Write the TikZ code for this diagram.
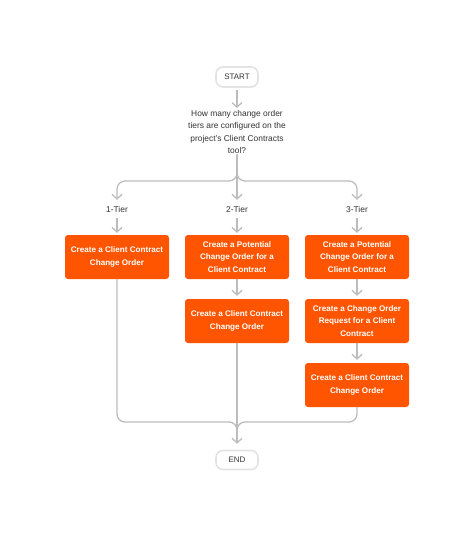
\documentclass[tikz,border=0pt]{standalone}
\usepackage{fontspec}
\setmainfont{Liberation Sans}
\usetikzlibrary{arrows.meta}
\definecolor{procore}{HTML}{FF5500}
\definecolor{linegray}{HTML}{BDBDBD}
\definecolor{termgray}{HTML}{E3E3E3}
\definecolor{txtgray}{HTML}{333333}
\tikzset{
  x=1pt,y=-1pt,
  term/.style={draw=termgray,line width=1.6pt,fill=white,rounded corners=7pt,
    minimum width=42pt,minimum height=20pt,inner sep=0pt,
    font=\fontsize{8}{10}\selectfont,text=txtgray},
  orangebox/.style={fill=procore,rounded corners=3pt,minimum width=104pt,
    minimum height=44pt,inner sep=0pt,align=center,text=white,
    font=\bfseries\fontsize{8.1}{12.6}\selectfont},
  question/.style={align=center,text=txtgray,inner sep=0pt,
    font=\fontsize{8.4}{12.5}\selectfont},
  tier/.style={text=txtgray,inner sep=0pt,minimum height=18pt,
    font=\fontsize{8.4}{10}\selectfont},
  conn/.style={draw=linegray,line width=1.3pt},
  arr/.style={conn,-{Straight Barb[length=4.5pt,width=10pt,line width=1.3pt]}},
}
\begin{document}
\begin{tikzpicture}
\useasboundingbox (0,0) rectangle (474,534);
\fill[white] (0,0) rectangle (474,534);

\node[term] (start) at (237,77) {START};
\node[question] (q) at (237,132) {How many change order\\tiers are configured on the\\project’s Client Contracts\\tool?};

\coordinate (sp) at (237,181);
\node[tier] (t1) at (117,209) {1-Tier};
\node[tier] (t2) at (237,209) {2-Tier};
\node[tier] (t3) at (357,209) {3-Tier};

\node[orangebox] (b1)  at (117,257) {Create a Client Contract\\Change Order};
\node[orangebox] (b2a) at (237,257) {Create a Potential\\Change Order for a\\Client Contract};
\node[orangebox] (b2b) at (237,321) {Create a Client Contract\\Change Order};
\node[orangebox] (b3a) at (357,257) {Create a Potential\\Change Order for a\\Client Contract};
\node[orangebox] (b3b) at (357,321) {Create a Change Order\\Request for a Client\\Contract};
\node[orangebox] (b3c) at (357,385) {Create a Client Contract\\Change Order};

\coordinate (mj) at (237,422);
\coordinate (mjb) at (237,434);
\node[term,minimum height=19pt] (end) at (237,460) {END};

% top
\draw[arr,shorten >=2pt,shorten <=2pt] (start) -- (q);
\draw[arr,shorten <=2pt] (q.south) -- (t2.north);
\draw[arr,rounded corners=8pt] (q.south) -- (sp) -| (t1.north);
\draw[arr,rounded corners=8pt] (q.south) -- (sp) -| (t3.north);

% tiers to boxes
\draw[arr,shorten >=2pt] (t1.south) -- (b1.north);
\draw[arr,shorten >=2pt] (t2.south) -- (b2a.north);
\draw[arr,shorten >=2pt] (t3.south) -- (b3a.north);
\draw[arr,shorten >=3pt] (b2a.south) -- (b2b.north);
\draw[arr,shorten >=3pt] (b3a.south) -- (b3b.north);
\draw[arr,shorten >=3pt] (b3b.south) -- (b3c.north);

% merge
\draw[conn,rounded corners=8pt] (b1.south) |- (mj) -- (mjb);
\draw[conn,rounded corners=8pt] (b3c.south) |- (mj) -- (mjb);
\draw[arr,shorten >=6pt] (b2b.south) -- (end.north);
\end{tikzpicture}
\end{document}
